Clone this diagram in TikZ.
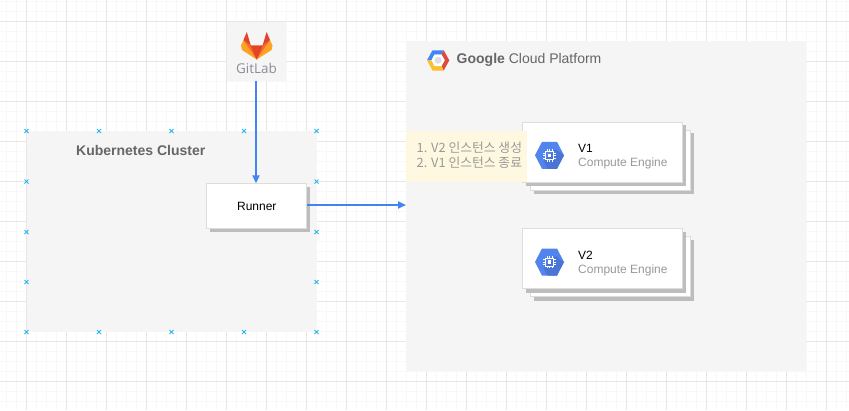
\documentclass[tikz,border=0pt]{standalone}
\usepackage{fontspec}
\setmainfont{Liberation Sans}
\newfontfamily\krfont{Noto Sans CJK KR}
\newfontfamily\gitfont{Open Sans}
\usetikzlibrary{arrows.meta,calc}
\definecolor{gridmajor}{HTML}{E6E6E6}
\definecolor{gridminor}{HTML}{F8F8F8}
\definecolor{panel}{HTML}{F5F5F5}
\definecolor{arrowblue}{HTML}{4284F3}
\definecolor{markblue}{HTML}{29B6F2}
\definecolor{titlegray}{HTML}{666666}
\definecolor{subgray}{HTML}{999999}
\definecolor{notefill}{HTML}{FFF8E1}
\definecolor{shadowgray}{HTML}{BDBDBD}
\definecolor{edgegray}{HTML}{DDDDDD}
\definecolor{chipblue}{HTML}{5184EC}
\definecolor{chipdark}{HTML}{4A74D6}
\definecolor{foxa}{HTML}{FCA326}
\definecolor{foxb}{HTML}{FC6D26}
\definecolor{foxc}{HTML}{E24329}
\definecolor{gitgray}{HTML}{8B8D9C}
\definecolor{gblue}{HTML}{4285F4}
\definecolor{gred}{HTML}{DD4B3E}
\definecolor{gyellow}{HTML}{FBC02D}
\definecolor{gcore}{HTML}{DEDEDE}
\tikzset{
  cardbox/.style={fill=white,draw=edgegray,line width=.8pt},
  cardshadow/.style={fill=shadowgray,draw=none},
  flow/.style={draw=arrowblue,line width=1.7pt,-{Triangle[length=8pt,width=7pt]}},
  selmark/.style={draw=markblue,line width=.9pt},
  lbl/.style={inner sep=0pt,anchor=west,font=\fontsize{12}{14}\selectfont},
  paneltitle/.style={inner sep=0pt,text=titlegray},
}
\newcommand{\cardpair}[2]{%
  \fill[cardshadow] (#1+11,#2+11) rectangle (#1+171,#2+72);
  \draw[cardbox] (#1+8,#2+8) rectangle (#1+168,#2+68);
  \fill[cardshadow] (#1+3,#2+3) rectangle (#1+163,#2+64);
  \draw[cardbox] (#1,#2) rectangle (#1+160,#2+60);
}
\newcommand{\chipicon}[2]{%
  \fill[chipblue] (#1-14.5,#2) -- (#1-7.5,#2-13.5) -- (#1+7.5,#2-13.5) -- (#1+14.5,#2) -- (#1+7.5,#2+13.5) -- (#1-7.5,#2+13.5) -- cycle;
  \fill[chipdark] (#1+6,#2-6) -- (#1+14.5,#2) -- (#1+7.5,#2+13.5) -- (#1-2,#2+13.5) -- (#1-6,#2+6) -- cycle;
  \draw[white,line width=1pt] (#1-4,#2-4) rectangle (#1+4,#2+4);
  \fill[white] (#1-1.8,#2-1.8) rectangle (#1+1.8,#2+1.8);
  \foreach \d in {-2.5,0,2.5}{
    \draw[white,line width=.5pt] (#1+\d,#2-6.2) -- (#1+\d,#2-4.5);
    \draw[white,line width=.5pt] (#1+\d,#2+4.5) -- (#1+\d,#2+6.2);
    \draw[white,line width=.5pt] (#1-6.2,#2+\d) -- (#1-4.5,#2+\d);
    \draw[white,line width=.5pt] (#1+4.5,#2+\d) -- (#1+6.2,#2+\d);
  }
}
\newcommand{\selx}[2]{\draw[selmark] (#1-2,#2-2) -- (#1+2,#2+2) (#1-2,#2+2) -- (#1+2,#2-2);}
\begin{document}
\begin{tikzpicture}[x=1pt,y=-1pt]
\useasboundingbox (0,0) rectangle (849,410);
\fill[white] (0,0) rectangle (849,410);
% grid
\begin{scope}
\clip (0,0) rectangle (849,410);
\foreach \k in {0,...,84}{\draw[gridminor,line width=1pt] ({6.7+10*\k},0) -- ({6.7+10*\k},410);}
\foreach \k in {0,...,40}{\draw[gridminor,line width=1pt] (0,{1.7+10*\k}) -- (849,{1.7+10*\k});}
\foreach \k in {0,...,21}{\draw[gridmajor,line width=1pt] ({26.7+40*\k},0) -- ({26.7+40*\k},410);}
\foreach \k in {0,...,10}{\draw[gridmajor,line width=1pt] (0,{21.7+40*\k}) -- (849,{21.7+40*\k});}
\end{scope}
% panels
\fill[panel] (226.5,21.5) rectangle (286,81);
\fill[panel] (26.5,131) rectangle (316.5,332);
\fill[panel] (406,41) rectangle (806,371);
% selection marks
\foreach \mx in {26.5,99,171.5,244,316.5}{\selx{\mx}{131}\selx{\mx}{332}}
\foreach \my in {181.5,232,282}{\selx{26.5}{\my}\selx{316.5}{\my}}
% GitLab
\fill[foxa] (241,45.5) -- (243.5,40) -- (250.5,45.5) -- (263,45.5) -- (270,40) -- (272.5,45.5) -- (271.5,50) -- (256.7,59.5) -- (242,50) -- cycle;
\fill[foxb] (243.5,40) -- (250.5,45.5) -- (263,45.5) -- (270,40) -- (256.7,59.5) -- cycle;
\fill[foxc] (246.8,32) -- (250.8,45.5) -- (262.6,45.5) -- (266.6,32) -- (270,40) -- (263,45.5) -- (256.7,59.5) -- (250.5,45.5) -- (243.5,40) -- cycle;
\node[inner sep=0pt,text=gitgray,font=\gitfont\fontsize{13.5}{15}\selectfont] (gitlabtext) at (256.5,68) {GitLab};
\coordinate (gitlabbottom) at (256,81);
% Kubernetes
\node[paneltitle,font=\bfseries\fontsize{14}{16}\selectfont,anchor=west] (k8stitle) at (76,150) {Kubernetes Cluster};
% Runner
\fill[cardshadow] (210,187) rectangle (310,231.5);
\node[draw=edgegray,fill=white,line width=.8pt,minimum width=100pt,minimum height=44.5pt,inner sep=0pt,font=\fontsize{12}{14}\selectfont] (runner) at (256.8,206) {Runner};
% GCP
\node[paneltitle,anchor=west,font=\fontsize{14}{16}\selectfont] (gcptitle) at (456.5,60) {\textbf{Google} Cloud Platform};
\coordinate (gcpedge) at (406,205);
\fill[gblue] (427,60.3) -- (432.5,50.3) -- (443.7,50.3) -- (441.5,54.5) -- (434.5,54.5) -- (431.5,60.3) -- cycle;
\fill[gred] (443.7,50.3) -- (449.3,60.3) -- (443.7,70.5) -- (441.5,66) -- (444.7,60.3) -- (441.5,54.5) -- cycle;
\fill[gyellow] (427,60.3) -- (432.5,70.5) -- (443.7,70.5) -- (441.5,66) -- (434.5,66) -- (431.5,60.3) -- cycle;
\fill[white] (431.5,60.3) -- (434.5,54.5) -- (441.5,54.5) -- (444.7,60.3) -- (441.5,66) -- (434.5,66) -- cycle;
\fill[gcore] (438,60.3) circle (3.5);
% Cards
\cardpair{522.5}{122}
\cardpair{522.5}{228.5}
\chipicon{549.5}{155.3}
\chipicon{549.5}{262}
\fill[notefill] (406,131) rectangle (527,181.5);
\node[inner sep=0pt,anchor=west,align=left,text=subgray,font=\krfont\fontsize{12.8}{14.5}\selectfont] (note) at (416.5,155) {1. V2 인스턴스 생성\\2. V1 인스턴스 종료};
\node[lbl] (v1) at (578,148.5) {V1};
\node[lbl,text=subgray] (ce1) at (578,163) {Compute Engine};
\node[lbl] (v2) at (578,255.5) {V2};
\node[lbl,text=subgray] (ce2) at (578,270) {Compute Engine};
% connectors
\draw[flow] (gitlabbottom) -- (runner.north -| gitlabbottom);
\draw[flow] (runner.east |- gcpedge) -- (gcpedge);
\end{tikzpicture}
\end{document}
